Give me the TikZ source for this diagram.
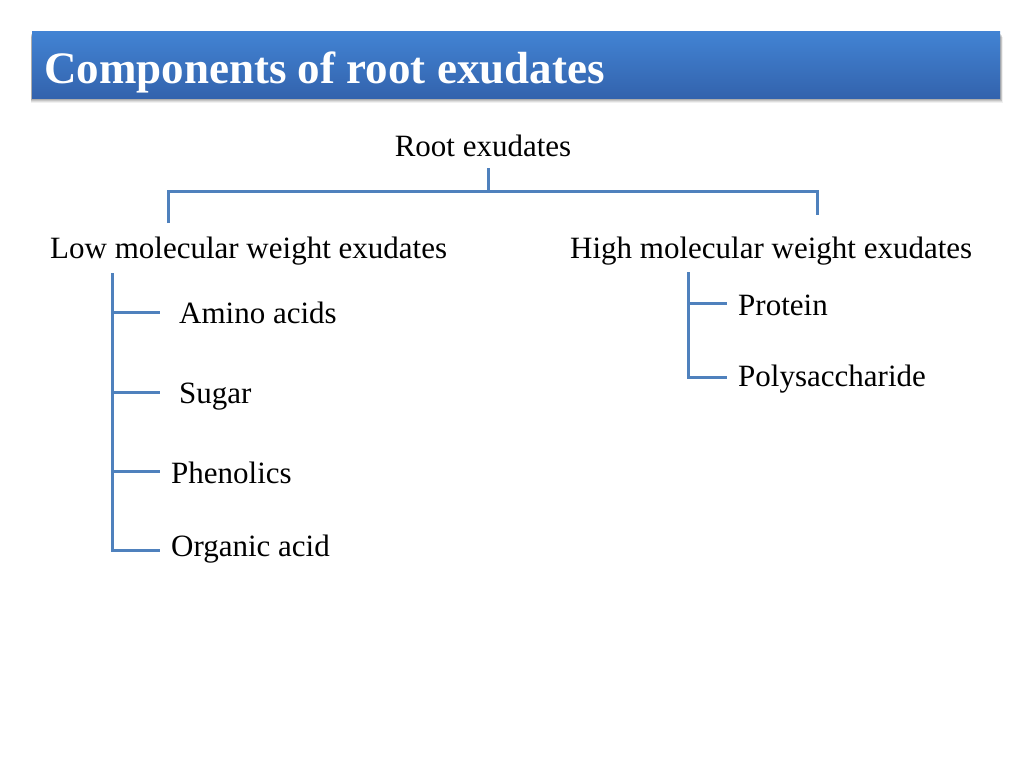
\documentclass[tikz,border=0pt]{standalone}
\usepackage{fontspec}
\setmainfont{Liberation Serif}
\usetikzlibrary{calc}
\definecolor{linec}{HTML}{4F81BD}
\definecolor{bartop}{HTML}{4283D3}
\definecolor{barbot}{HTML}{3363AD}
\tikzset{
  lbl/.style={inner sep=0pt, anchor=base west, font=\fontsize{31}{37}\selectfont, text=black},
  conn/.style={draw=linec, line width=3pt},
}
\begin{document}
\begin{tikzpicture}[x=1pt,y=-1pt]
\useasboundingbox (0,0) rectangle (1024,768);
\fill[white] (0,0) rectangle (1024,768);
% title bar shadow
\foreach \o/\op in {5/0.06,4/0.08,3/0.1,2/0.12}{
  \fill[black,opacity=\op] (32-\o*0.3,32+\o) rectangle (1000+\o*0.6,98+\o);
}
\shade[top color=bartop, bottom color=barbot] (32,32) rectangle (1000,98);
\node[inner sep=0pt, anchor=base west, font=\fontsize{45}{54}\selectfont\bfseries, text=white] (title) at (44,83) {Components of root exudates};
% nodes
\node[inner sep=0pt, anchor=base, font=\fontsize{31}{37}\selectfont] (root) at (483,156) {Root exudates};
\node[lbl] (low) at (50,258) {Low molecular weight exudates};
\node[lbl] (high) at (570,258) {High molecular weight exudates};
\node[lbl] (amino) at (179,323) {Amino acids};
\node[lbl] (sugar) at (179,403) {Sugar};
\node[lbl] (phen) at (171,483) {Phenolics};
\node[lbl] (org) at (171,556) {Organic acid};
\node[lbl] (prot) at (738,315) {Protein};
\node[lbl] (poly) at (738,386) {Polysaccharide};
% junction coordinates
\coordinate (rs) at (488,168);
\coordinate (rj) at (488,191);
\coordinate (lj) at (168,191);
\coordinate (ld) at (168,223);
\coordinate (hj) at (817,191);
\coordinate (hd) at (817,215);
\coordinate (lt) at (112,273);
\coordinate (la) at (112,312);
\coordinate (ls) at (112,392);
\coordinate (lp) at (112,471);
\coordinate (lo) at (112,550);
\coordinate (lae) at (160,312);
\coordinate (lse) at (160,392);
\coordinate (lpe) at (160,471);
\coordinate (loe) at (160,550);
\coordinate (ht) at (688,272);
\coordinate (hp) at (688,303);
\coordinate (hq) at (688,377);
\coordinate (hpe) at (727,303);
\coordinate (hqe) at (727,377);
% connectors
\draw[conn] (rs) -- (rj);
\draw[conn] (ld) -- (lj) -- (hj) -- (hd);
\draw[conn] (lt) -- (lo) -- (loe);
\draw[conn] (la) -- (lae);
\draw[conn] (ls) -- (lse);
\draw[conn] (lp) -- (lpe);
\draw[conn] (ht) -- (hq) -- (hqe);
\draw[conn] (hp) -- (hpe);
\end{tikzpicture}
\end{document}
